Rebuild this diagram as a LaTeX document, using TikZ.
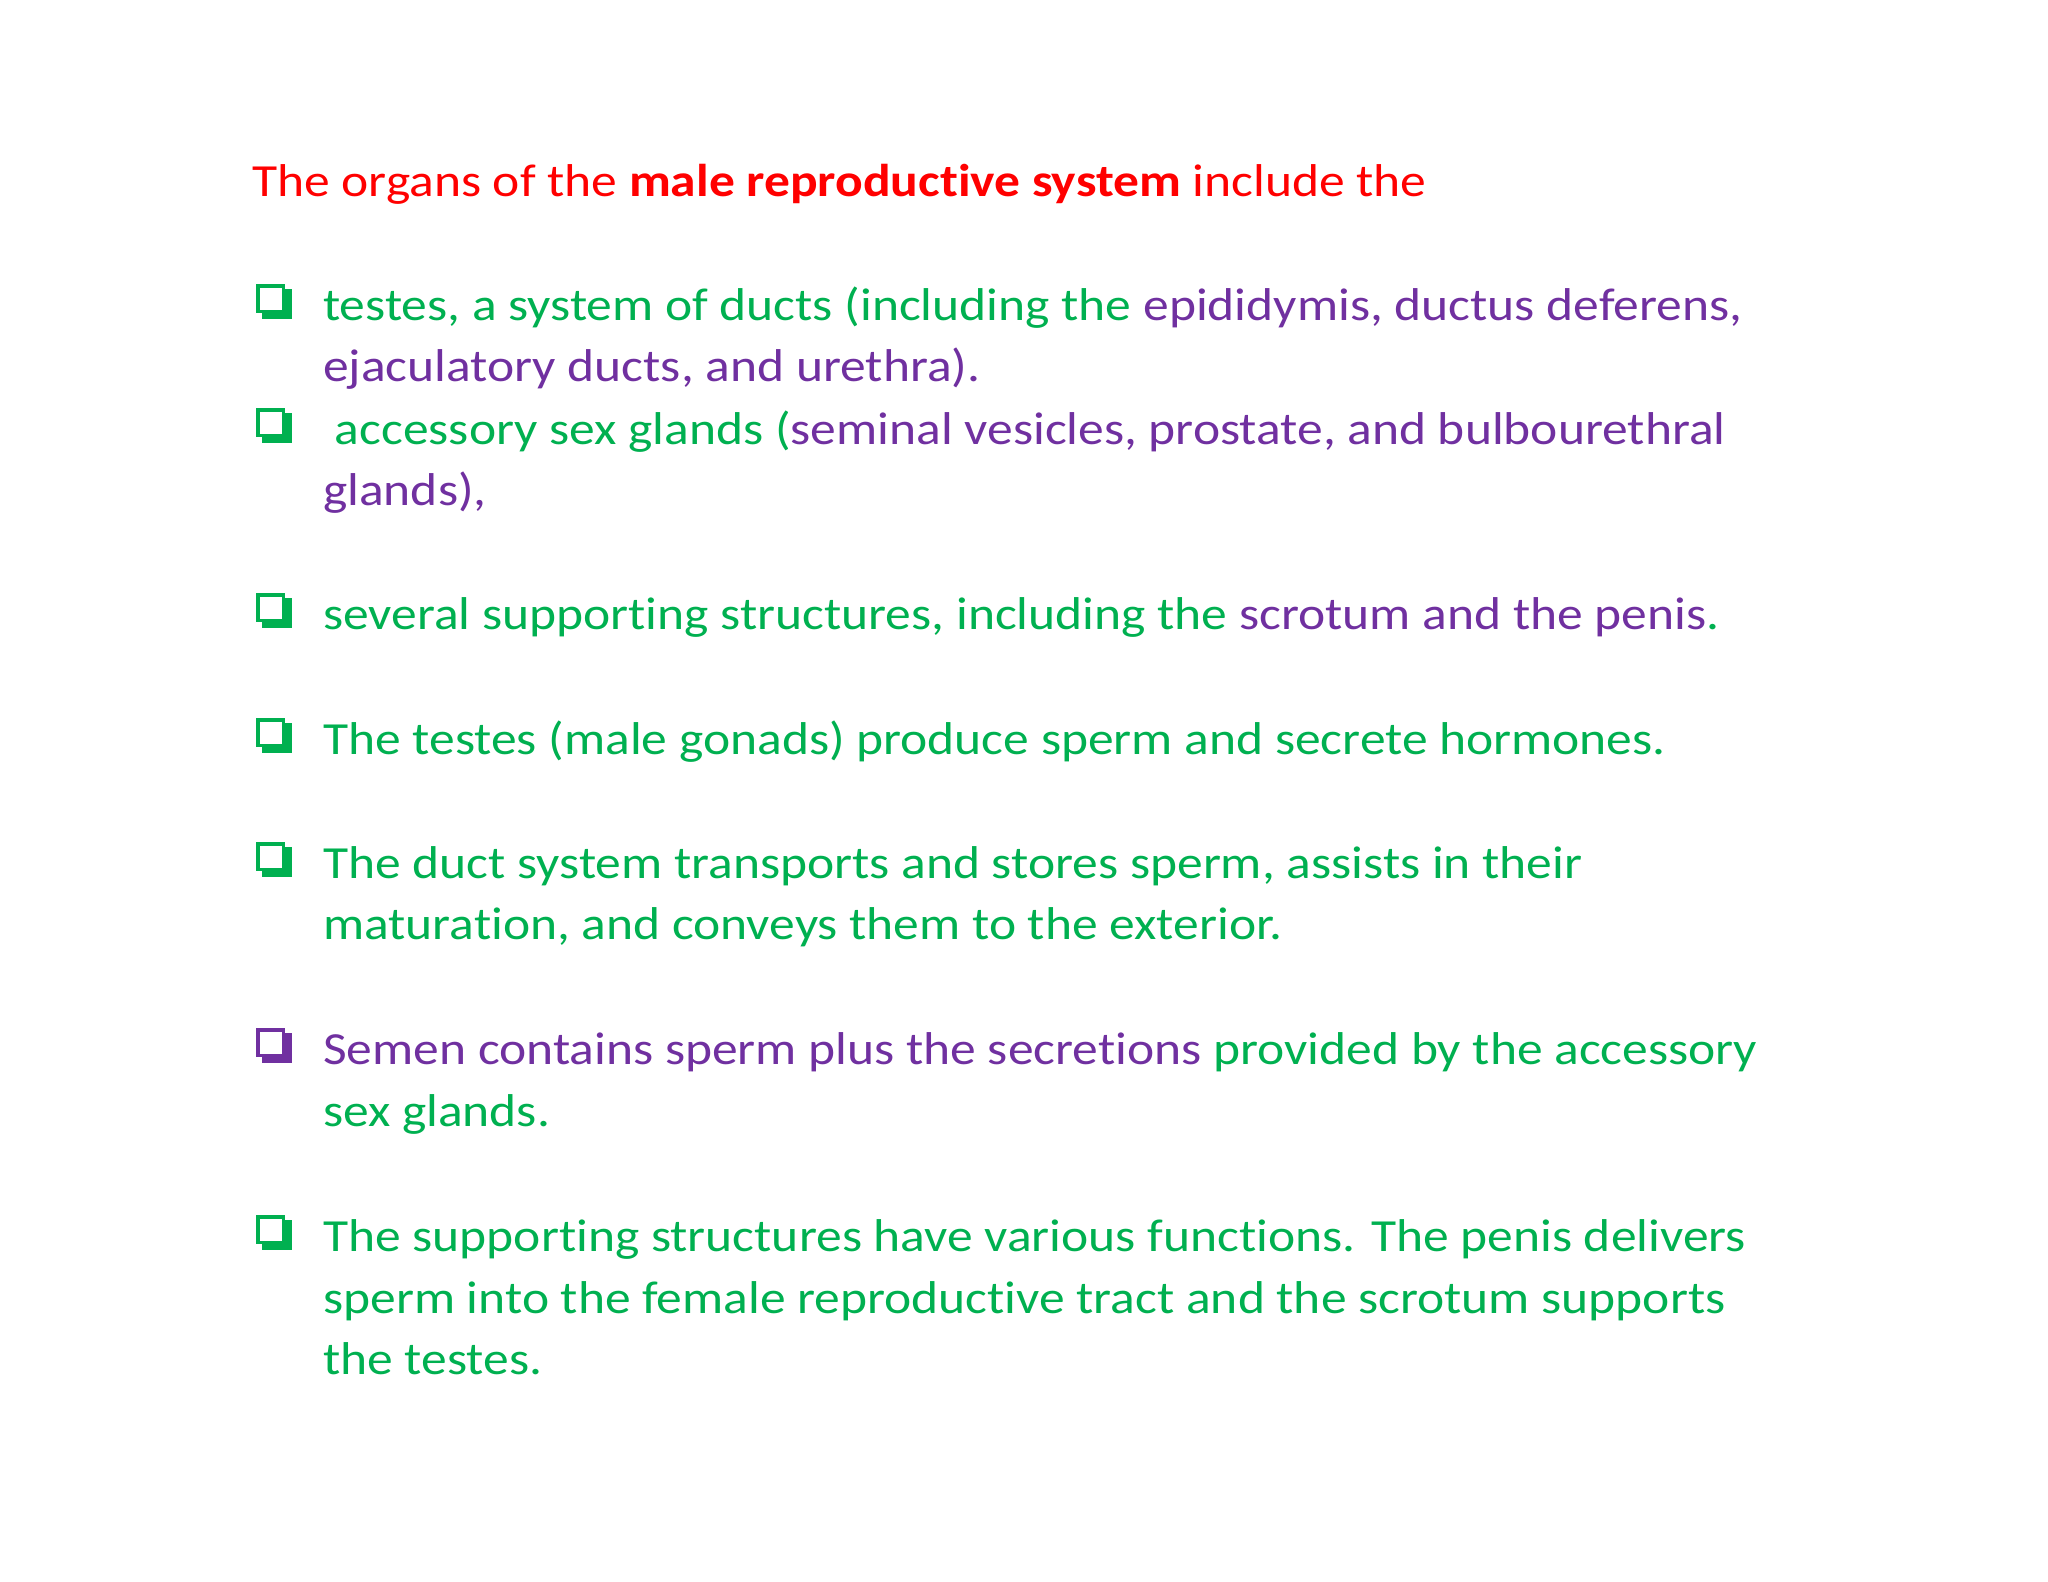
\documentclass[tikz,border=0pt]{standalone}
\usepackage{fontspec}
\setmainfont{Carlito}[FakeStretch=1.12,RawFeature={-liga;-dlig}]
\definecolor{gr}{HTML}{00B050}
\definecolor{pu}{HTML}{7030A0}
\definecolor{rd}{HTML}{FF0000}
\begin{document}
\begin{tikzpicture}[x=1pt,y=-1pt,
  ln/.style={anchor=base west,inner sep=0pt,font=\fontsize{46}{54}\selectfont}]
\useasboundingbox (0,0) rectangle (2048,1582);
\newcommand\bul[2]{%
  \fill[#2] (#1+6,-1) rectangle (#1+36,-31);
  \fill[white] (#1,-36) rectangle (#1+29,-7);
  \draw[#2,line width=3.5pt] (#1+1.75,-34.25) rectangle (#1+27.25,-8.75);}
\node[ln,text=rd] (t) at (252,196) {The organs of the \textbf{male reproductive system} include the};
\foreach \y/\c in {320/gr,444/gr,629/gr,754/gr,878/gr,1064/pu,1251/gr}{
  \begin{scope}[shift={(256,\y)}]\bul{0}{\c}\end{scope}}
\node[ln,text=gr] (a1) at (323,320) {testes, a system of ducts (including the \textcolor{pu}{epididymis, ductus deferens,}};
\node[ln,text=pu] (a2) at (323,381) {ejaculatory ducts, and urethra).};
\node[ln,text=gr] (b1) at (323,444) {\ accessory sex glands (\textcolor{pu}{seminal vesicles, prostate, and bulbourethral}};
\node[ln,text=pu] (b2) at (323,505) {glands),};
\node[ln,text=gr] (c1) at (323,629) {several supporting structures, including the \textcolor{pu}{scrotum and the penis}.};
\node[ln,text=gr] (d1) at (323,754) {The testes (male gonads) produce sperm and secrete hormones.};
\node[ln,text=gr] (e1) at (323,878) {The duct system transports and stores sperm, assists in their};
\node[ln,text=gr] (e2) at (323,939) {maturation, and conveys them to the exterior.};
\node[ln,text=gr] (f1) at (323,1064) {\textcolor{pu}{Semen contains sperm plus the secretions} provided by the accessory};
\node[ln,text=gr] (f2) at (323,1126) {sex glands.};
\node[ln,text=gr] (g1) at (323,1251) {The supporting structures have various functions. The penis delivers};
\node[ln,text=gr] (g2) at (323,1313) {sperm into the female reproductive tract and the scrotum supports};
\node[ln,text=gr] (g3) at (323,1374) {the testes.};
\end{tikzpicture}
\end{document}
